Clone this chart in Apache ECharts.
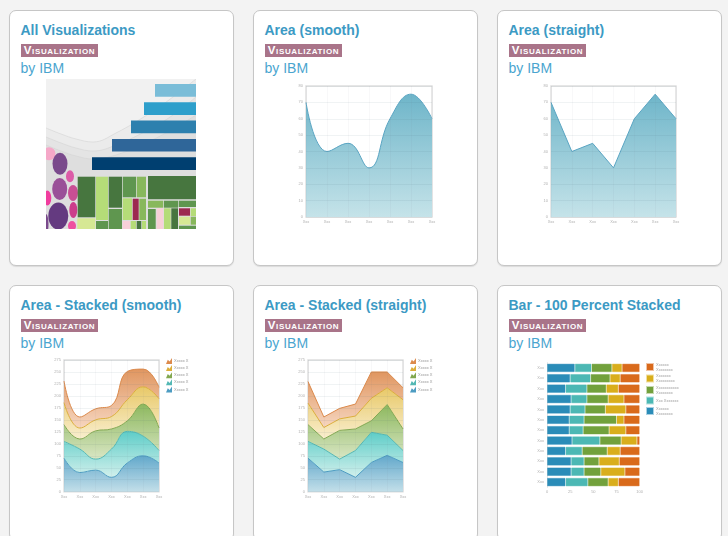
<!DOCTYPE html>
<html>
<head>
<meta charset="utf-8">
<title>Visualizations</title>
<script src="https://cdn.jsdelivr.net/npm/echarts@6/dist/echarts.min.js"></script>
<style>
html, body { margin: 0; padding: 0; width: 728px; height: 536px; overflow: hidden; background: #f3f3f3; }
body { position: relative; font-family: "Liberation Sans", Arial, sans-serif; }
.card { position: absolute; box-sizing: border-box; width: 225px; height: 256px; background: #fff; border: 1px solid #c6c6c6; border-radius: 7px; box-shadow: 0 1px 1px rgba(0,0,0,.1); }
.title { position: absolute; left: 10.5px; top: 10px; font-size: 14px; line-height: 18px; font-weight: bold; color: #3c9ac4; white-space: nowrap; }
.badge { position: absolute; left: 11px; top: 33px; width: 77px; height: 13px; background: #a97489; color: #fff; font-size: 11.5px; line-height: 13px; font-weight: bold; font-variant: small-caps; letter-spacing: .65px; text-align: center; white-space: nowrap; }
.by { position: absolute; left: 10.5px; top: 48px; font-size: 14px; line-height: 18px; color: #4aa5cf; }
.chart { position: absolute; }
</style>
</head>
<body>
<div class="card" style="left:9px;top:10px"><div class="title">All Visualizations</div><div class="badge">Visualization</div><div class="by">by IBM</div></div>
<div class="card" style="left:253px;top:10px"><div class="title">Area (smooth)</div><div class="badge">Visualization</div><div class="by">by IBM</div></div>
<div class="card" style="left:497px;top:10px"><div class="title">Area (straight)</div><div class="badge">Visualization</div><div class="by">by IBM</div></div>
<div class="card" style="left:9px;top:285px"><div class="title">Area - Stacked (smooth)</div><div class="badge">Visualization</div><div class="by">by IBM</div></div>
<div class="card" style="left:253px;top:285px"><div class="title">Area - Stacked (straight)</div><div class="badge">Visualization</div><div class="by">by IBM</div></div>
<div class="card" style="left:497px;top:285px"><div class="title">Bar - 100 Percent Stacked</div><div class="badge">Visualization</div><div class="by">by IBM</div></div>

<div class="chart" id="thumb" style="left:46px;top:79px;width:150px;height:150px"></div>
<div class="chart" id="areaSmooth" style="left:270px;top:78px;width:180px;height:150px"></div>
<div class="chart" id="areaStraight" style="left:515px;top:78px;width:180px;height:150px"></div>
<div class="chart" id="stackSmooth" style="left:40px;top:352px;width:180px;height:150px"></div>
<div class="chart" id="stackStraight" style="left:285px;top:352px;width:180px;height:150px"></div>
<div class="chart" id="barPercent" style="left:525px;top:355px;width:190px;height:145px"></div>

<script>
// single area charts
var months = ['Xxx', 'Xxx', 'Xxx', 'Xxx', 'Xxx', 'Xxx', 'Xxx'];
var areaValues = [70, 40, 45, 30, 60, 75, 60];

// stacked smooth, bottom band first
var smoothBlue = [70, 40, 45, 30, 60, 75, 60];
var smoothTeal = [35, 49, 23, 59, 66, 41, 26];
var smoothGreen = [35, 21, 59, 42, 22, 67, 47];
var smoothYellow = [46, 23, 23, 26, 44, 36, 61];
var smoothOrange = [45, 23, 23, 23, 59, 37, 24];

// stacked straight
var straightBlue = [70, 41, 46, 30, 61, 76, 61];
var straightTeal = [35, 48, 22, 56, 63, 42, 25];
var straightGreen = [35, 21, 60, 45, 24, 64, 45];
var straightYellow = [45, 24, 24, 27, 47, 35, 61];
var straightOrange = [45, 22, 22, 25, 55, 33, 25];

var stackNames = ['Xxxxx X', 'Xxxxx X ', 'Xxxxx X  ', 'Xxxxx X   ', 'Xxxxx X    '];

// 100 percent bars, top row first
var barRows = ['Xxx', 'Xxx', 'Xxx', 'Xxx', 'Xxx', 'Xxx', 'Xxx', 'Xxx', 'Xxx', 'Xxx', 'Xxx', 'Xxx'];
var barBlue = [30, 25, 20, 26, 25, 24, 24, 27, 20, 26, 26, 20];
var barTeal = [18, 22, 23, 17, 16, 16, 15, 30, 18, 14, 14, 24];
var barGreen = [22, 21, 21, 23, 22, 35, 28, 23, 27, 16, 18, 22];
var barYellow = [11, 11, 13, 17, 22, 8, 18, 17, 14, 22, 26, 11];
var barOrange = [19, 21, 23, 17, 15, 17, 15, 3, 21, 22, 16, 23];
var barNames = ['Xxxxxx\nXxxxxxxx', 'Xxxxxxx\nXxxxxxxxx', 'Xxxxxxxxxxx\nXxxxxxxx', 'Xxx Xxxxxxx', 'Xxxxxx \nXxxxxxxx'];

// "all visualizations" picture, in its own 150 x 150 units
var thumbBarLengths = [41, 52, 65, 84, 104];
var waveX = [0, 15, 30, 47, 70, 104, 127, 150];
var waveTop = [49, 55, 60, 63, 54, 34, 18, 0];
var waveMid = [58, 64, 69, 72, 66, 50, 36, 18];
var waveLow = [66, 72, 77, 80, 76, 62, 50, 36];
var bubbleX = [3, 14, -3, 24, 13.7, 27, 1.3, 27.3, 12.3, 26, 0];
var bubbleY = [74.7, 84.7, 97.7, 97.3, 110, 114, 119, 131, 137, 147, 145];
var bubbleWidth = [13, 15, 20, 8, 15, 10, 8, 8, 20, 8, 5];
var bubbleHeight = [13, 22, 28, 12, 22, 16, 15, 16, 27, 10, 20];
// x0, y0, x1, y1, shade
var treeCells = [
    [31.7, 97.7, 49.3, 138.3, 0], [50, 97.7, 62, 141, 2], [62.7, 97.7, 76, 128.7, 0],
    [76.7, 97.7, 90, 118.3, 1], [90.7, 97.7, 100, 118.3, 3], [31.3, 139.3, 49.3, 150, 4],
    [50, 142, 62, 150, 1], [62.7, 130, 76, 150, 1], [76.7, 119.3, 86, 141, 2],
    [86.7, 119.7, 92.7, 141, 5], [93.3, 119.7, 100, 141, 3], [76.7, 142, 84, 150, 6],
    [84.7, 142, 90, 150, 2], [90.7, 142, 95.3, 150, 0], [96, 142, 100, 150, 2],
    [102, 97, 150, 120.3, 0], [102, 121.7, 117.3, 128.7, 3], [118, 121.7, 132, 128.7, 1],
    [132.7, 121.7, 150, 128, 1], [102, 130, 109.7, 150, 1], [110.7, 129.3, 117.3, 150, 6],
    [118, 129.3, 124.7, 150, 2], [125.3, 129.3, 132, 150, 0], [133, 129.3, 144, 136.7, 5],
    [144.7, 129.3, 150, 137, 2], [133, 137.7, 144, 145.7, 4], [144.7, 137.7, 150, 145.7, 3],
    [133, 146.7, 150, 150, 1]
];

var thumbBarColors = ['#7abdd8', '#2e9fcb', '#2d80ae', '#2f6699', '#003f70'];
var bubbleColors = ['#f5a8c8', '#7a4a8c', '#7a4a8c', '#dc5ca8', '#9a5098', '#c84f94', '#f03d9e', '#cc3d8c', '#643a80', '#ee4fa0', '#7a4a8c'];
var treeColors = ['#47763f', '#5f964f', '#b5dc78', '#88b85c', '#d6e894', '#9c2a50', '#f7d0d8'];

var tinyLabel = { fontSize: 4, color: '#b0b0b0', fontFamily: 'Liberation Sans' };

function gradient(top, bottom) {
    return new echarts.graphic.LinearGradient(0, 0, 0, 1, [
        { offset: 0, color: top },
        { offset: 1, color: bottom }
    ]);
}

function areaSeries(name, values, smooth, line, top, bottom, stacked) {
    return {
        name: name,
        type: 'line',
        stack: stacked ? 'all' : null,
        smooth: smooth ? 0.45 : false,
        symbol: 'none',
        data: values,
        lineStyle: { color: line, width: 1 },
        itemStyle: { color: line },
        areaStyle: { color: gradient(top, bottom), opacity: 1 }
    };
}

// axes and frame shared by the area charts
function areaOption(left, width, height, maxValue, step, series) {
    return {
        animation: false,
        grid: { left: left, top: 8, width: width, height: height, show: true, borderColor: '#dedede', borderWidth: 1.4, backgroundColor: '#fff' },
        xAxis: {
            type: 'category',
            data: months,
            boundaryGap: false,
            axisLine: { show: false },
            axisTick: { show: false },
            axisLabel: { ...tinyLabel, margin: 3, interval: 0 },
            splitLine: { show: true, lineStyle: { color: 'rgba(110,120,130,.05)', width: 1 } },
            z: 5
        },
        yAxis: {
            type: 'value',
            min: 0,
            max: maxValue,
            interval: step,
            axisLine: { show: false },
            axisTick: { show: false },
            axisLabel: { ...tinyLabel, margin: 3 },
            splitLine: { lineStyle: { color: 'rgba(70,100,120,.08)', width: 1 } },
            z: 5
        },
        series: series
    };
}

function stackedOption(left, blue, teal, green, yellow, orange, smooth) {
    var option = areaOption(left, 95, 131.7, 275, 25, [
        areaSeries(stackNames[0], blue, smooth, '#4d9cc2', '#62a8cb', '#c3dfe9', true),
        areaSeries(stackNames[1], teal, smooth, '#53b8b4', '#5ecdc8', '#d2f0ec', true),
        areaSeries(stackNames[2], green, smooth, '#82a850', '#8db85e', '#d9e6c4', true),
        areaSeries(stackNames[3], yellow, smooth, '#dcae3a', '#e8c968', '#f9eecf', true),
        areaSeries(stackNames[4], orange, smooth, '#dc8a4c', '#e09660', '#f6d6c0', true)
    ]);
    option.legend = {
        orient: 'vertical',
        left: left + 102,
        top: 6,
        itemWidth: 6,
        itemHeight: 6,
        itemGap: 1.1,
        padding: 0,
        icon: 'path://M0 10L3 3L6 6L10 0L10 10Z',
        data: stackNames.slice().reverse(),
        textStyle: { ...tinyLabel, color: '#999', padding: [0, 0, 0, -3] },
        formatter: function (name) { return name.trim(); }
    };
    return option;
}

function barSeries(name, values, color) {
    return {
        name: name,
        type: 'bar',
        stack: 'all',
        data: values,
        barWidth: 8.6,
        itemStyle: { color: color, borderColor: color + '66', borderWidth: 1 }
    };
}

echarts.init(document.getElementById('areaSmooth')).setOption(areaOption(36, 126, 131, 80, 10, [
    areaSeries('Area', areaValues, true, '#5aa5c3', '#6eb5c9', '#c5e3e9', false)
]));

echarts.init(document.getElementById('areaStraight')).setOption(areaOption(36, 125, 131, 80, 10, [
    areaSeries('Area', areaValues, false, '#5aa5c3', '#6eb5c9', '#c5e3e9', false)
]));

echarts.init(document.getElementById('stackSmooth')).setOption(stackedOption(24, smoothBlue, smoothTeal, smoothGreen, smoothYellow, smoothOrange, true));
echarts.init(document.getElementById('stackStraight')).setOption(stackedOption(23, straightBlue, straightTeal, straightGreen, straightYellow, straightOrange, false));

echarts.init(document.getElementById('barPercent')).setOption({
    animation: false,
    grid: { left: 22, top: 7.7, width: 92.7, height: 124.6 },
    legend: {
        orient: 'vertical',
        left: 121,
        top: 7,
        itemWidth: 6,
        itemHeight: 6,
        itemGap: 1.5,
        padding: 0,
        icon: 'rect',
        data: barNames,
        textStyle: { ...tinyLabel, color: '#a0a0a0', lineHeight: 5, padding: [0, 0, 0, -2] },
        formatter: function (name) { return name.replace(/ +(\n|$)/, '$1'); }
    },
    xAxis: {
        type: 'value',
        min: 0,
        max: 100,
        interval: 25,
        axisLine: { show: false },
        axisTick: { show: false },
        splitLine: { show: false },
        axisLabel: { ...tinyLabel, margin: 3 }
    },
    yAxis: {
        type: 'category',
        inverse: true,
        data: barRows,
        axisLine: { show: true, lineStyle: { color: '#e4e4e4' } },
        axisTick: { show: false },
        axisLabel: { ...tinyLabel, margin: 3, interval: 0 }
    },
    series: [
        barSeries(barNames[4], barBlue, '#2a8cb8'),
        barSeries(barNames[3], barTeal, '#4cb8b4'),
        barSeries(barNames[2], barGreen, '#72a13c'),
        barSeries(barNames[1], barYellow, '#d9ae1c'),
        barSeries(barNames[0], barOrange, '#d96a1b')
    ]
});

function wavePoints(values) {
    return values.map(function (y, i) { return [waveX[i], y]; });
}

function waveArea(values, color) {
    return {
        type: 'line',
        smooth: 0.4,
        symbol: 'none',
        z: 1,
        data: wavePoints(values),
        lineStyle: { color: '#d4d4d4', width: 0.6 },
        areaStyle: { color: color, origin: 'end', opacity: 1 }
    };
}

echarts.init(document.getElementById('thumb')).setOption({
    animation: false,
    backgroundColor: '#f1f1f1',
    grid: [
        { left: 0, top: 0, width: 150, height: 150 },
        { left: 0, top: 2.2, width: 150, height: 91.5 }
    ],
    xAxis: [
        { type: 'value', gridIndex: 0, min: 0, max: 150, show: false },
        { type: 'value', gridIndex: 1, min: 0, max: 150, inverse: true, show: false }
    ],
    yAxis: [
        { type: 'value', gridIndex: 0, min: 0, max: 150, inverse: true, show: false },
        { type: 'category', gridIndex: 1, inverse: true, show: false, data: thumbBarLengths.map(String) }
    ],
    series: [
        waveArea(waveTop, '#ebebeb'),
        waveArea(waveMid, '#e4e4e4'),
        waveArea(waveLow, '#dedede'),
        {
            type: 'bar',
            xAxisIndex: 1,
            yAxisIndex: 1,
            z: 2,
            barWidth: 12.7,
            data: thumbBarLengths.map(function (v, i) {
                return { value: v, itemStyle: { color: thumbBarColors[i] } };
            })
        },
        {
            type: 'scatter',
            z: 3,
            clip: true,
            data: bubbleX.map(function (x, i) {
                return { value: [x, bubbleY[i]], symbolSize: [bubbleWidth[i], bubbleHeight[i]], itemStyle: { color: bubbleColors[i], opacity: 1 } };
            })
        },
        {
            type: 'custom',
            z: 4,
            clip: true,
            data: treeCells,
            encode: { x: [0, 2], y: [1, 3] },
            renderItem: function (params, api) {
                var p0 = api.coord([api.value(0), api.value(1)]);
                var p1 = api.coord([api.value(2), api.value(3)]);
                return {
                    type: 'rect',
                    shape: { x: p0[0], y: p0[1], width: p1[0] - p0[0], height: p1[1] - p0[1] },
                    style: { fill: treeColors[api.value(4)] }
                };
            }
        }
    ]
});
</script>
</body>
</html>
